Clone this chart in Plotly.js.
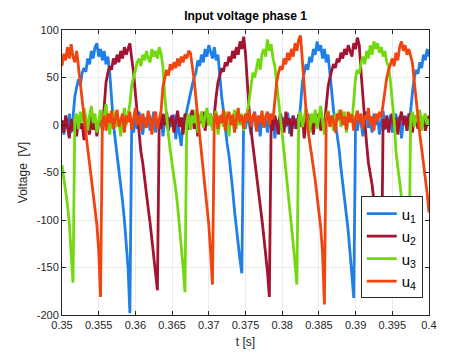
<!DOCTYPE html>
<html>
<head>
<meta charset="utf-8">
<script src="https://cdn.plot.ly/plotly-3.0.1.min.js"></script>
<style>html,body{margin:0;padding:0;background:#fff;}#chart{width:474px;height:355px;}</style>
</head>
<body>
<div id="chart"></div>
<script>
// sampled signals: t = tStart + i*dt
const tStart = 0.35;
const dt = 0.00025;

const u1 = [
  4, -10, 8, -4, 12, -8, 8, 30, 40, 48,
  42, 55, 60, 56, 70, 64, 78, 70, 82, 86,
  72, 80, 68, 78, 64, 72, 55, 28, 2, -15,
  -30, -45, -62, -80, -100, -122, -150, -198, 6, -8,
  10, -4, 14, 2, -10, 8, -2, 12, -6, 4,
  14, -8, 6, -3, 10, -12, 4, 12, -5, 8,
  -2, 11, -15, 4, -8, -22, 6, 5, 15, 25,
  35, 42, 50, 55, 68, 62, 74, 66, 80, 72,
  84, 76, 70, 82, 68, 74, 50, 30, 15, -5,
  -20, -32, -48, -68, -90, -110, -128, -142, -156, 8,
  -4, 12, 2, -10, 8, 14, -6, 4, -12, 10,
  0, 6, -8, 12, -3, 9, -14, 5, 2, 11,
  -6, 8, -2, 13, -9, 4, 10, -4, 7, 0,
  20, 45, 55, 64, 58, 72, 66, 80, 74, 88,
  78, 84, 70, 80, 66, 74, 55, 32, 15, 2,
  -10, -25, -45, -60, -78, -95, -112, -133, -155, -182,
  6, -6, 10, 2, -12, 8, 14, -3, 6, -8,
  12, 0, 9, -10, 4, 15, -5, 8, -2, 11,
  -8, 5, 12, -4, 9, -14, 3, 10, -6, 6,
  15, 35, 50, 58, 54, 66, 60, 74, 68, 80,
  72
];

const u2 = [
  5, -8, 10, -2, -14, 6, -6, 3, -12, 8,
  -4, 2, -16, 6, -2, -10, 9, -5, 4, -12,
  2, 10, -6, 20, 45, 55, 62, 58, 70, 64,
  74, 66, 78, 70, 82, 74, 80, 86, 70, 55,
  33, 10, -12, -28, -40, -58, -72, -88, -103, -120,
  -140, -158, -174, 8, -4, 12, 0, 14, -6, 6,
  10, -8, 4, 15, -2, 8, -10, 12, 3, -5,
  9, 16, -4, 6, -12, 10, 2, 14, -6, 8,
  0, 12, -4, 10, 30, 45, 52, 60, 56, 66,
  62, 72, 66, 78, 70, 82, 74, 88, 80, 93,
  75, 40, 15, -5, -20, -38, -55, -70, -85, -100,
  -118, -135, -155, -181, 6, -6, 10, 2, -10, 12,
  4, -8, 14, 0, 7, -12, 9, 3, -4, 11,
  -2, 8, -14, 6, 12, -5, 4, -10, 9, 2,
  12, -6, 6, 0, 20, 40, 50, 58, 64, 60,
  70, 66, 76, 70, 80, 74, 84, 78, 72, 86,
  80, 92, 84, 55, 28, 0, -20, -40, -52, -63,
  -80, -98, -118, -145, -181, 6, -4, 10, -8, 4,
  12, -2, 8, -10, 6, 14, 0, 9, -6, 12,
  3, -8, 10, 5, -4, 12, 0, 8, -6, 4,
  10
];

const u3 = [
  -42, -55, -68, -84, -104, -130, -166, 6, 12, -4,
  14, 3, 18, 8, -6, 10, 20, 2, 12, -8,
  6, 16, -2, 10, 22, 4, -10, 8, 15, -3,
  12, 2, -12, 6, 18, 0, 10, 22, 42, 50,
  58, 66, 70, 62, 74, 68, 78, 70, 66, 80,
  72, 78, 70, 82, 75, 62, 30, 8, -10, -27,
  -40, -55, -68, -85, -104, -128, -150, -176, 4, 12,
  -5, 10, 2, 16, -8, 6, 14, -3, 9, 18,
  0, 12, -6, 8, 15, -10, 4, 11, -2, 14,
  6, -12, 8, 3, 16, -4, 10, 0, 12, -6,
  8, 14, 26, 42, 55, 50, 62, 70, 58, 75,
  80, 72, 90, 78, 85, 70, 62, 45, 28, 12,
  -10, -28, -48, -66, -86, -104, -125, -146, -168, 6,
  14, -2, 10, 18, 4, -8, 12, 2, 16, -4,
  8, 20, 3, -10, 10, 15, 0, 7, -6, 12,
  4, 16, -2, 9, 14, -8, 6, 12, 2, 30,
  50, 58, 54, 66, 72, 64, 78, 70, 84, 74,
  88, 80, 86, 76, 82, 72, 78, 66, 62, 45,
  28, 5, -28, -48, -60, -76, -95, -115, -138, -165,
  8, 14, -2, 10, 4, 16, -6, 8, 12, 0,
  6
];

const u4 = [
  62, 75, 68, 82, 70, 85, 72, 66, 78, 60,
  42, 22, 5, -12, -25, -40, -55, -72, -88, -105,
  -132, -181, 4, 10, -6, 12, 2, 15, -4, 8,
  16, -2, 6, 12, -8, 10, 3, 14, -5, 7,
  18, 0, 10, -6, 12, 4, -3, 15, 6, -10,
  8, 14, -4, 6, 15, 40, 50, 58, 52, 64,
  58, 66, 60, 70, 62, 72, 66, 74, 70, 78,
  76, 62, 48, 28, 10, -10, -28, -45, -62, -80,
  -105, -135, -168, 6, 12, -4, 10, 2, 16, -6,
  8, 14, 0, 11, -8, 6, 18, 3, 10, -4,
  12, 4, 16, -2, 8, 13, -7, 10, 2, 15,
  -3, 9, 14, 0, 12, 6, 25, 45, 55, 62,
  58, 70, 64, 76, 68, 80, 72, 86, 78, 90,
  94, 65, 40, 15, -5, -17, -30, -42, -58, -75,
  -90, -108, -135, -189, 5, 14, -2, 10, 4, -8,
  12, 6, 16, 0, 9, -5, 14, 3, 11, -6,
  8, 15, 2, 12, -4, 10, 6, 18, 0, 9,
  -6, 12, 4, 14, 8, 22, 40, 50, 58, 64,
  70, 62, 76, 68, 82, 88, 78, 84, 74, 80,
  72, 65, 45, 25, 8, -10, -25, -40, -55, -72,
  -92
];

const seriesNames = ['u<sub>1</sub>', 'u<sub>2</sub>', 'u<sub>3</sub>', 'u<sub>4</sub>'];
const seriesColors = ['#1f7fe8', '#a2142f', '#72d90e', '#f0450f'];
const seriesValues = [u1, u2, u3, u4];

const xTickVals = [0.35, 0.355, 0.36, 0.365, 0.37, 0.375, 0.38, 0.385, 0.39, 0.395, 0.4];
const xTickText = ['0.35', '0.355', '0.36', '0.365', '0.37', '0.375', '0.38', '0.385', '0.39', '0.395', '0.4'];
const yTickVals = [-200, -150, -100, -50, 0, 50, 100];
const yTickText = ['-200', '-150', '-100', '-50', '0', '50', '100'];

const t = u1.map((_, i) => tStart + i * dt);

const traces = seriesValues.map((vals, k) => ({
  x: t,
  y: vals,
  type: 'scatter',
  mode: 'lines',
  name: seriesNames[k],
  line: {color: seriesColors[k], width: 2.8}
}));

const font = 'Liberation Sans, Arial, Helvetica, sans-serif';
const axisCommon = {
  ticks: 'inside',
  ticklen: 4,
  tickwidth: 1,
  tickcolor: '#262626',
  showline: true,
  linecolor: '#262626',
  linewidth: 1,
  mirror: 'ticks',
  showgrid: true,
  gridcolor: '#ebebeb',
  gridwidth: 1,
  zeroline: false,
  tickfont: {family: font, size: 11, color: '#262626'},
  automargin: false
};

const layout = {
  width: 474,
  height: 355,
  margin: {l: 62, r: 45, t: 30, b: 40},
  paper_bgcolor: '#ffffff',
  plot_bgcolor: '#ffffff',
  showlegend: true,
  title: {
    text: '<b>Input voltage phase 1</b>',
    font: {family: font, size: 12, color: '#000000'},
    xref: 'paper', x: 0.5, xanchor: 'center',
    yref: 'container', y: 1 - 16 / 355, yanchor: 'middle'
  },
  xaxis: Object.assign({}, axisCommon, {
    range: [0.35, 0.4],
    tickmode: 'array',
    tickvals: xTickVals,
    ticktext: xTickText,
    title: {text: 't [s]', font: {family: font, size: 12, color: '#262626'}, standoff: 7}
  }),
  yaxis: Object.assign({}, axisCommon, {
    range: [-200, 100],
    tickmode: 'array',
    tickvals: yTickVals,
    ticktext: yTickText,
    title: {text: 'Voltage  [V]', font: {family: font, size: 12, color: '#262626'}, standoff: 6}
  }),
  legend: {
    x: 0.983, y: 0.058, xanchor: 'right', yanchor: 'bottom',
    bgcolor: '#ffffff',
    bordercolor: '#262626',
    borderwidth: 1,
    font: {family: font, size: 15, color: '#000000'},
    itemwidth: 30
  }
};

Plotly.newPlot('chart', traces, layout, {displayModeBar: false, staticPlot: true});
</script>
</body>
</html>
